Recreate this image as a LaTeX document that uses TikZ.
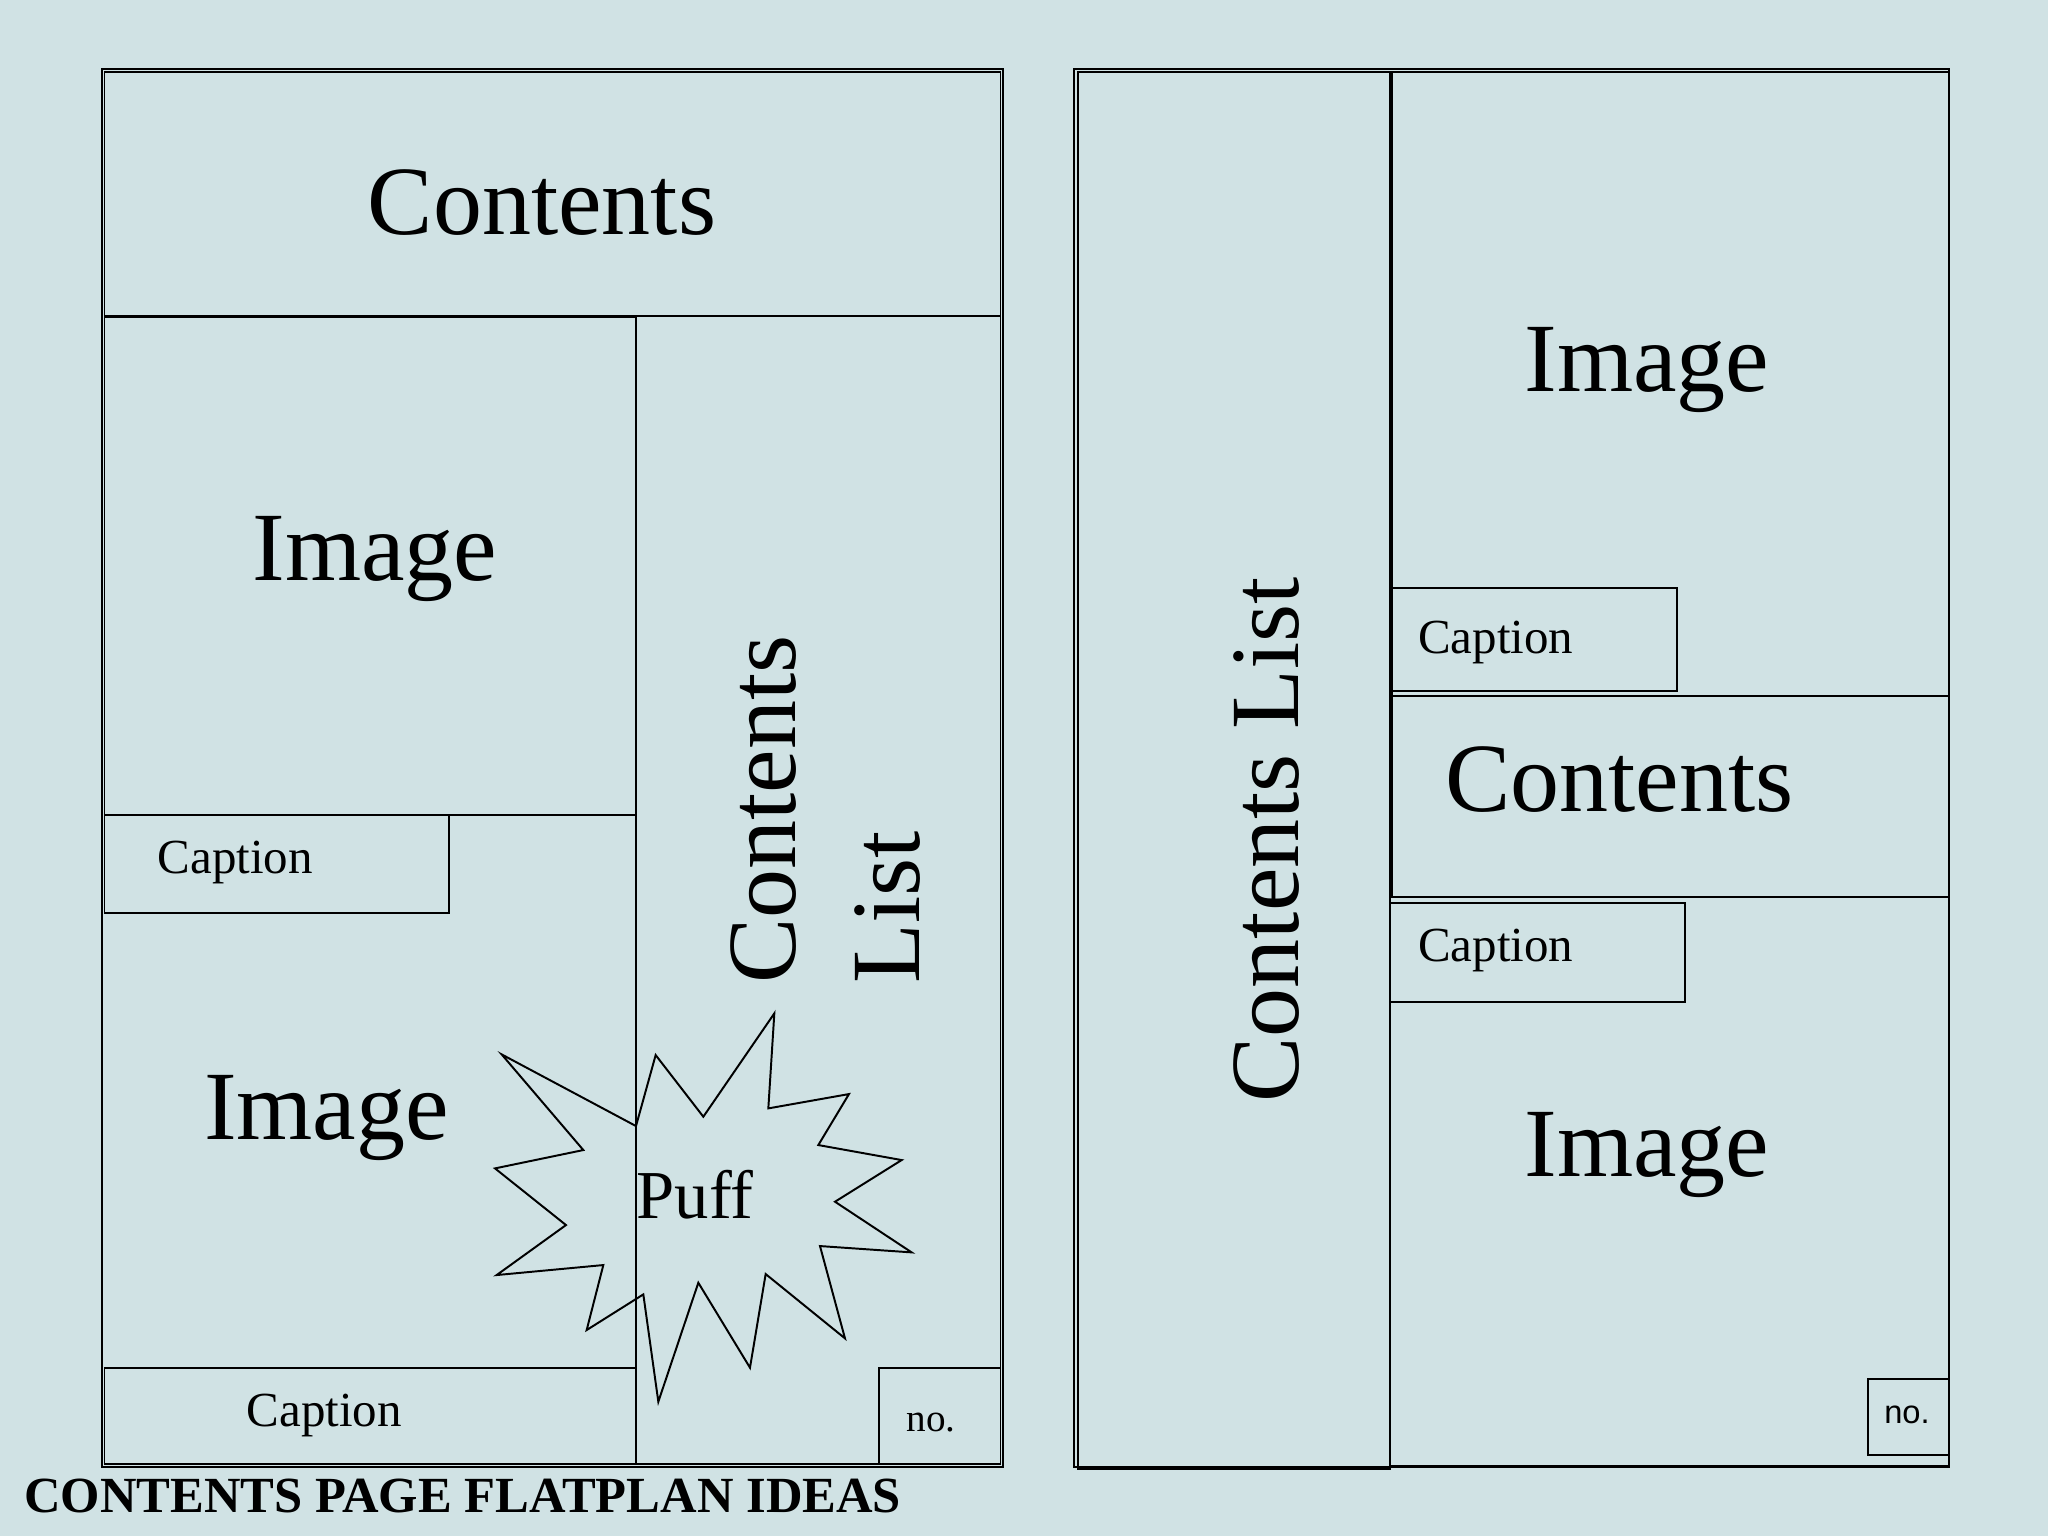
\documentclass[tikz,border=0pt]{standalone}
\usepackage{fontspec}
\setmainfont{Liberation Serif}
\setsansfont{Liberation Sans}
\definecolor{bg}{HTML}{D0E2E4}
\begin{document}
\begin{tikzpicture}[x=0.4pt,y=-0.4pt,
  box/.style={draw=black,line width=0.6pt},
  big/.style={font=\fontsize{30}{38}\selectfont},
  captxt/.style={font=\fontsize{15}{17}\selectfont,anchor=west}]
\fill[bg] (0,0) rectangle (1568,1176);
\useasboundingbox (0,0) rectangle (1568,1176);
% left page
\draw[box] (78,53) rectangle (768,1123);
\draw[box] (80,55) rectangle (766,242);
\draw[box] (80,243) rectangle (487,624);
\draw[box] (487,242) rectangle (766,1121);
\draw[box] (80,624) rectangle (344,699);
\draw[box] (80,1047) rectangle (487,1121);
\draw[box] (673,1047) rectangle (766,1121);
\node[big] (c1) at (415,155) {Contents};
\node[big] (i1) at (287,428) {Image};
\node[big] (i2) at (250,856) {Image};
\node[big,rotate=90,align=left,anchor=west] (cl1) at (632,762) {Contents\\List};
\node[captxt] (cp1) at (112,660) {Caption};
\node[captxt] (cp2) at (180,1084) {Caption};
\node[font=\fontsize{12}{14}\selectfont] (n1) at (713,1089) {no.};
\begin{scope}[shift={(367.5,758)},scale=0.2552]
\draw[box] (65,193)--(468,408)--(527,195)--(670,380)--(883,70)--(865,355)--(1107,312)--(1015,465)--(1265,510)--(1065,635)--(1295,787)--(1020,768)--(1095,1045)--(857,852)--(810,1133)--(655,878)--(535,1235)--(490,913)--(320,1020)--(370,825)--(50,855)--(258,705)--(45,535)--(310,480)--cycle;
\end{scope}
\node[font=\fontsize{21}{23}\selectfont,anchor=base west,inner sep=0] (pf) at (487,933) {Puff};
\node[font=\bfseries\fontsize{15.5}{17}\selectfont,anchor=base west,inner sep=0] (t) at (18,1158) {CONTENTS PAGE FLATPLAN IDEAS};
% right page
\draw[box] (822,53) rectangle (1492,1123);
\draw[box] (825,55) rectangle (1064,1125);
\draw[box] (1066,55) rectangle (1492,533);
\draw[box] (1066,450) rectangle (1284,529);
\draw[box] (1066,533) rectangle (1492,687);
\draw[box] (1064,691) rectangle (1290,767);
\draw[box] (1064,687) rectangle (1492,1122);
\draw[box] (1430,1056) rectangle (1492,1114);
\node[big] (i3) at (1261,283) {Image};
\node[big] (c2) at (1240,597) {Contents};
\node[big] (i4) at (1261,884) {Image};
\node[big,rotate=90] (cl2) at (970,643) {Contents List};
\node[captxt] (cp3) at (1077,492) {Caption};
\node[captxt] (cp4) at (1077,728) {Caption};
\node[font=\sffamily\fontsize{10}{12}\selectfont] (n2) at (1460,1083) {no.};
\end{tikzpicture}
\end{document}
